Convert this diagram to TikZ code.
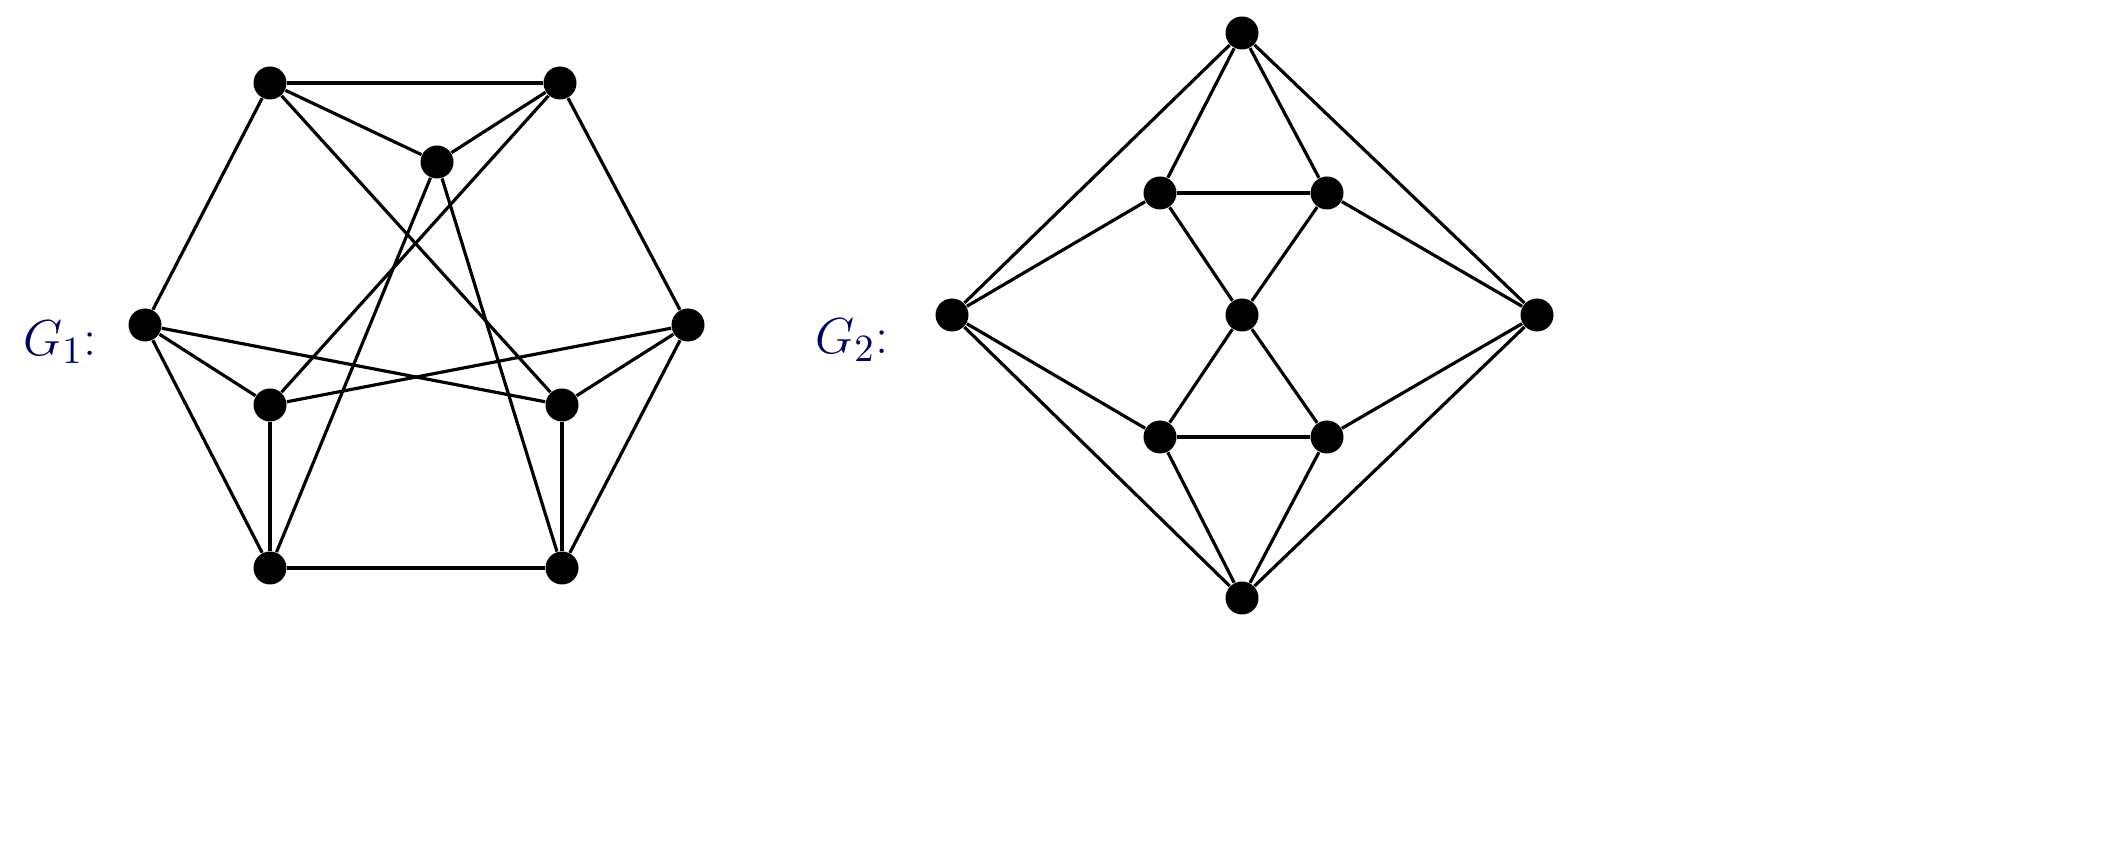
\documentclass[tikz,border=0pt]{standalone}
\begin{document}
\begin{tikzpicture}[
  v/.style={circle,fill=black,inner sep=0pt,minimum size=0.33cm},
  e/.style={line width=0.9pt},
  lab/.style={font=\fontsize{15}{17}\selectfont,text=blue!40!black}]
\useasboundingbox (0,0) rectangle (21.21,-8.58);
\node[v] (A) at (2.70,-0.83) {};
\node[v] (B) at (5.60,-0.83) {};
\node[v] (C) at (4.37,-1.62) {};
\node[v] (D) at (1.45,-3.25) {};
\node[v] (E) at (6.88,-3.25) {};
\node[v] (F) at (2.70,-4.05) {};
\node[v] (G) at (5.62,-4.05) {};
\node[v] (H) at (2.70,-5.68) {};
\node[v] (I) at (5.62,-5.68) {};
\foreach \a/\b in {A/B,A/D,A/C,A/G,B/C,B/E,B/F,C/H,C/I,D/F,D/G,D/H,E/F,E/G,E/I,F/H,G/I,H/I}
  \draw[e] (\a) -- (\b);
\node[lab] (l1) at (0.60,-3.42) {$G_1$:};
\node[v] (T) at (12.42,-0.33) {};
\node[v] (UL) at (11.60,-1.93) {};
\node[v] (UR) at (13.27,-1.93) {};
\node[v] (L) at (9.52,-3.15) {};
\node[v] (M) at (12.42,-3.15) {};
\node[v] (R) at (15.37,-3.15) {};
\node[v] (LL) at (11.60,-4.37) {};
\node[v] (LR) at (13.27,-4.37) {};
\node[v] (Bo) at (12.42,-5.98) {};
\foreach \a/\b in {T/L,T/UL,T/UR,T/R,UL/UR,UL/L,UL/M,UR/R,UR/M,L/LL,L/Bo,M/LL,M/LR,LL/LR,LL/Bo,LR/R,LR/Bo,R/Bo}
  \draw[e] (\a) -- (\b);
\node[lab] (l2) at (8.52,-3.40) {$G_2$:};
\end{tikzpicture}
\end{document}
